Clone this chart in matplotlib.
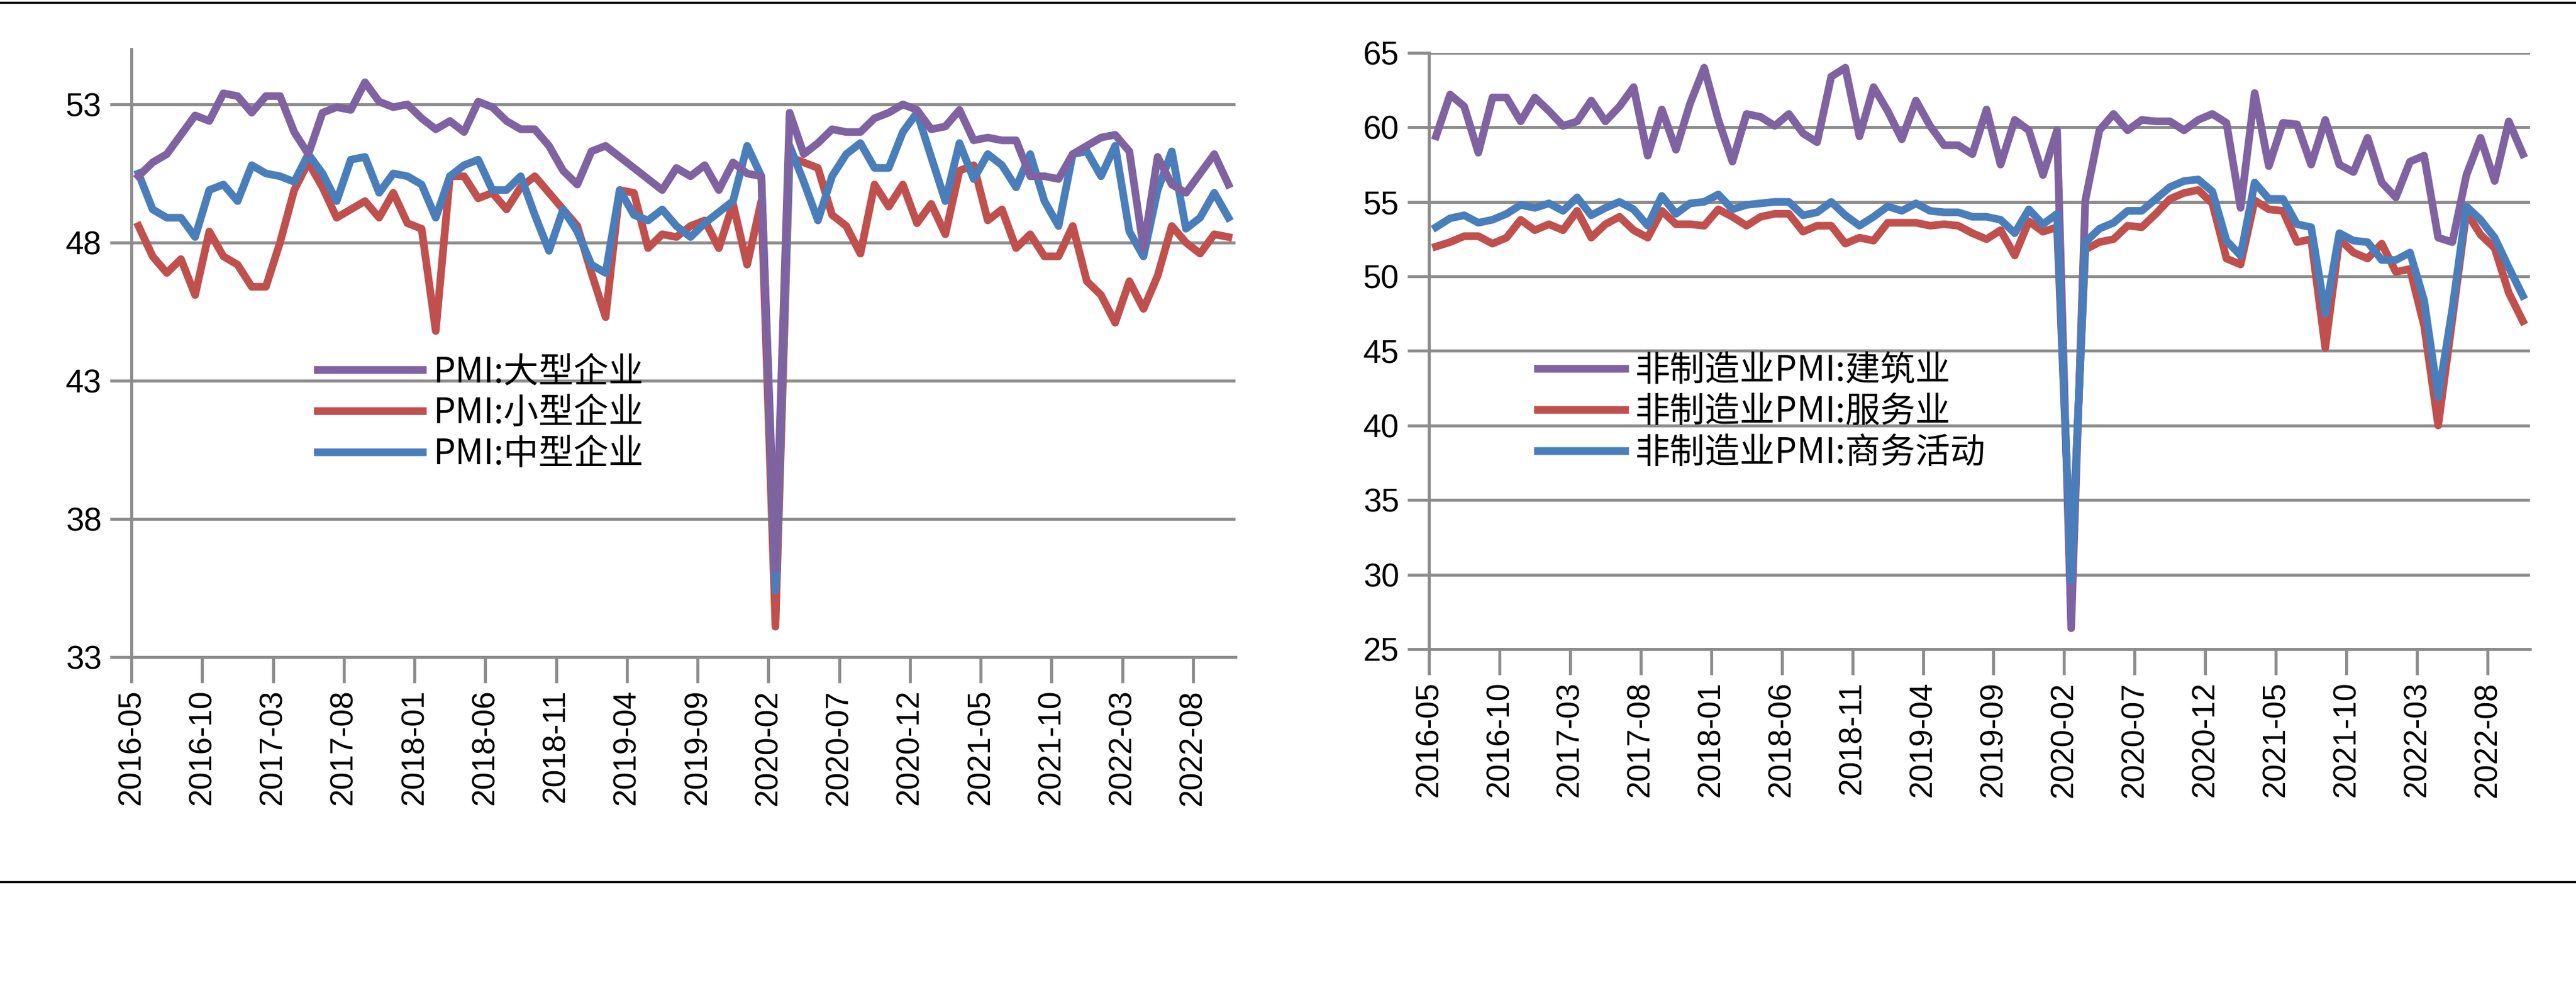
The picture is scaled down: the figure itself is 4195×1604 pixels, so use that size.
import matplotlib
matplotlib.use("Agg")
import matplotlib.pyplot as plt
from matplotlib.lines import Line2D

months = [f"{2016 + (4 + i)//12}-{(4 + i)%12 + 1:02d}" for i in range(78)]

large = [50.4,50.9,51.2,51.9,52.6,52.4,53.4,53.3,52.7,53.3,53.3,52.0,51.2,52.7,52.9,52.8,53.8,53.1,52.9,53.0,
         52.5,52.1,52.4,52.0,53.1,52.9,52.4,52.1,52.1,51.5,50.6,50.1,51.3,51.5,51.1,50.7,50.3,49.9,50.7,50.4,
         50.8,49.9,50.9,50.5,50.4,36.2,52.7,51.2,51.6,52.1,52.0,52.0,52.5,52.7,53.0,52.8,52.1,52.2,52.8,51.7,
         51.8,51.7,51.7,50.4,50.4,50.3,51.2,51.5,51.8,51.9,51.3,47.8,51.1,50.1,49.8,50.5,51.2,50.1]
small = [48.6,47.5,46.9,47.4,46.1,48.4,47.5,47.2,46.4,46.4,48.0,49.9,50.9,50.0,48.9,49.2,49.5,48.9,49.8,48.7,
         48.5,44.8,50.4,50.4,49.6,49.8,49.2,50.0,50.4,49.8,49.2,48.6,46.9,45.3,49.9,49.8,47.8,48.3,48.2,48.6,
         48.8,47.8,49.4,47.2,49.5,34.1,51.1,50.9,50.7,49.0,48.6,47.6,50.1,49.3,50.1,48.7,49.4,48.3,50.6,50.8,
         48.8,49.2,47.8,48.3,47.5,47.5,48.6,46.6,46.1,45.1,46.6,45.6,46.8,48.6,48.0,47.6,48.3,48.2]
medium = [50.5,49.2,48.9,48.9,48.2,49.9,50.1,49.5,50.8,50.5,50.4,50.2,51.2,50.5,49.5,51.0,51.1,49.8,50.5,50.4,
          50.1,48.9,50.4,50.8,51.0,49.9,49.9,50.4,49.0,47.7,49.2,48.4,47.2,46.9,49.9,49.0,48.8,49.2,48.6,48.2,
          48.7,49.1,49.5,51.5,50.4,35.4,51.5,50.2,48.8,50.4,51.2,51.6,50.7,50.7,52.0,52.7,51.1,49.5,51.6,50.3,
          51.2,50.8,50.0,51.2,49.5,48.6,51.2,51.3,50.4,51.5,48.4,47.5,49.9,51.3,48.5,48.9,49.8,48.9]

construction = [59.4,62.2,61.4,58.3,62.0,62.0,60.4,62.0,61.1,60.1,60.4,61.8,60.4,61.4,62.7,58.1,61.2,58.5,61.6,64.0,
                60.5,57.7,60.9,60.7,60.1,60.9,59.6,59.0,63.4,64.0,59.4,62.7,61.1,59.2,61.8,60.1,58.8,58.8,58.2,61.2,
                57.5,60.5,59.8,56.8,59.8,26.4,55.1,59.8,60.9,59.8,60.5,60.4,60.4,59.8,60.5,60.9,60.3,54.6,62.3,57.4,
                60.3,60.2,57.5,60.5,57.5,57.0,59.3,56.3,55.3,57.7,58.1,52.6,52.3,56.8,59.3,56.4,60.4,58.2]
services = [52.0,52.3,52.7,52.7,52.2,52.6,53.8,53.1,53.5,53.1,54.4,52.6,53.5,54.0,53.1,52.6,54.4,53.5,53.5,53.4,
            54.5,54.0,53.4,54.0,54.2,54.2,53.0,53.4,53.4,52.2,52.6,52.4,53.6,53.6,53.6,53.4,53.5,53.4,52.9,52.5,
            53.1,51.4,53.7,53.0,53.3,30.1,51.8,52.3,52.5,53.4,53.3,54.2,55.2,55.6,55.8,54.9,51.2,50.8,55.1,54.5,
            54.4,52.3,52.5,45.2,52.5,51.6,51.2,52.2,50.3,50.5,46.7,40.0,47.1,54.3,52.8,51.9,48.9,47.0]
business = [53.3,53.9,54.1,53.6,53.8,54.2,54.8,54.6,54.9,54.4,55.3,54.1,54.6,55.0,54.5,53.4,55.4,54.2,54.9,55.0,
            55.5,54.5,54.8,54.9,55.0,55.0,54.1,54.3,55.0,54.1,53.4,54.0,54.7,54.4,54.9,54.4,54.3,54.3,54.0,54.0,
            53.8,52.9,54.5,53.5,54.2,29.6,52.3,53.2,53.6,54.4,54.4,55.2,56.0,56.4,56.5,55.7,52.4,51.4,56.3,55.2,
            55.2,53.5,53.3,47.5,52.9,52.4,52.3,51.1,51.1,51.6,48.4,41.9,47.8,54.7,53.8,52.6,50.6,48.7]

left_labels = ["PMI:大型企业", "PMI:小型企业", "PMI:中型企业"]
right_labels = ["非制造业PMI:建筑业", "非制造业PMI:服务业", "非制造业PMI:商务活动"]

PURPLE, RED, BLUE = "#7f63a1", "#c0504d", "#4a7ebb"
GRID = "#8c8c8c"
LW = 9

plt.rcParams['font.family'] = ['Liberation Sans', 'Noto Sans CJK SC', 'DejaVu Sans']

fig = plt.figure(figsize=(41.95, 16.04), dpi=100)
axL = fig.add_axes([214/4195, 1 - 1070/1604, (2012-214)/4195, (1070-80)/1604])
axR = fig.add_axes([2327/4195, 1 - 1057/1604, (4120-2327)/4195, (1057-86)/1604])

x = list(range(78))

def style(ax, ylo, yhi, step):
    ax.set_xlim(-0.5, 77.5)
    ax.set_ylim(ylo, yhi)
    ax.set_yticks(list(range(ylo, yhi + 1, step)))
    ax.yaxis.grid(True, color=GRID, lw=3.5)
    ax.set_axisbelow(True)
    for s in ["top", "right"]:
        ax.spines[s].set_visible(False)
    for s in ["left", "bottom"]:
        ax.spines[s].set_color(GRID)
        ax.spines[s].set_linewidth(3.5)
    ticks = [i - 0.5 for i in range(0, 78, 5)]
    ax.set_xticks(ticks)
    ax.set_xticklabels([months[i] for i in range(0, 78, 5)], rotation=90)
    ax.tick_params(axis="x", length=30, width=3.5, color=GRID, labelsize=37, pad=8)
    ax.tick_params(axis="y", length=25, width=3.5, color=GRID, labelsize=38, pad=10)

style(axL, 33, 53, 5)
axL.set_ylim(33, 55)
axL.plot(x, small, color=RED, lw=LW)
axL.plot(x, medium, color=BLUE, lw=LW)
axL.plot(x, large, color=PURPLE, lw=LW)
hL = [Line2D([], [], color=c, lw=LW) for c in (PURPLE, RED, BLUE)]
axL.legend(hL, left_labels, loc="upper left", bbox_to_anchor=(0.14, 0.55), frameon=False,
           prop={'family': ['Noto Sans CJK SC'], 'size': 41}, handlelength=3.0, labelspacing=0.15,
           handletextpad=0.3)

style(axR, 25, 65, 5)
axR.plot(x, construction, color=PURPLE, lw=LW)
axR.plot(x, services, color=RED, lw=LW)
axR.plot(x, business, color=BLUE, lw=LW)
hR = [Line2D([], [], color=c, lw=LW) for c in (PURPLE, RED, BLUE)]
axR.legend(hR, right_labels, loc="upper left", bbox_to_anchor=(0.07, 0.55), frameon=False,
           prop={'family': ['Noto Sans CJK SC'], 'size': 41}, handlelength=2.5, labelspacing=0.15,
           handletextpad=0.3)

fig.add_artist(Line2D([0, 1], [1 - 4/1604, 1 - 4/1604], color="black", lw=2.5))
fig.add_artist(Line2D([0, 1], [1 - 1436/1604, 1 - 1436/1604], color="black", lw=2.5))

fig.savefig("out.png", dpi=100, facecolor="white")
